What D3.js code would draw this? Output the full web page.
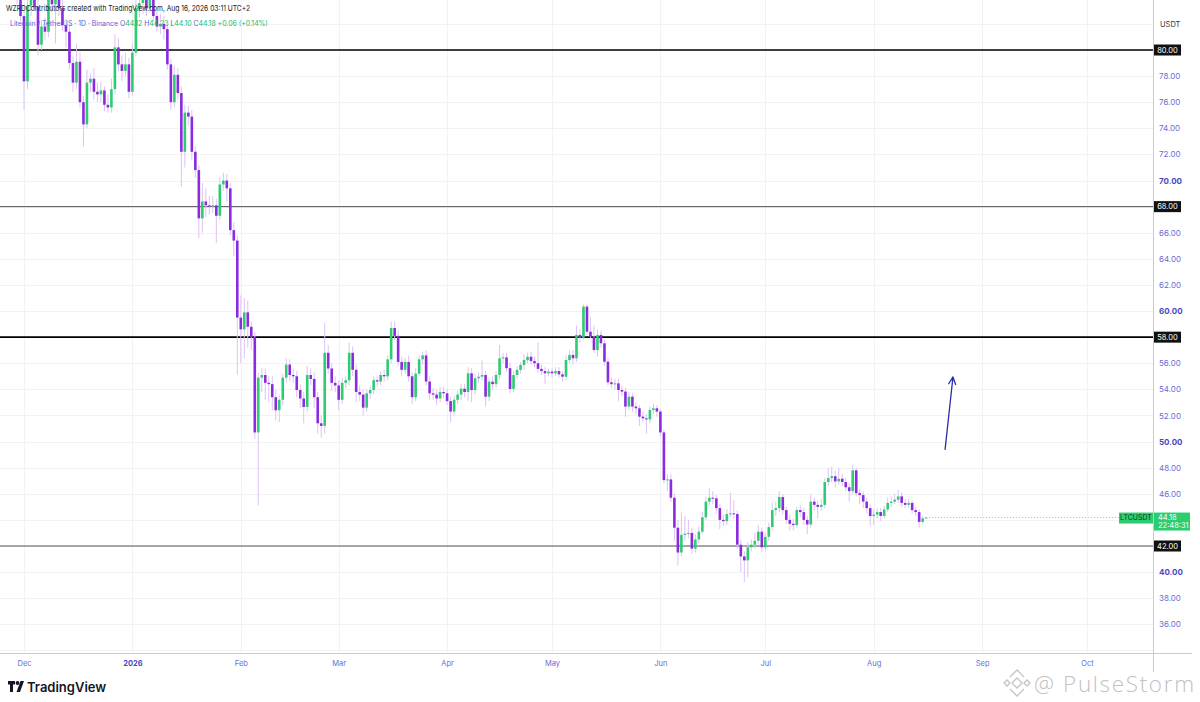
<!DOCTYPE html>
<html>
<head>
<meta charset="utf-8">
<script src="https://cdn.jsdelivr.net/npm/d3@7"></script>
<style>
  html, body { margin: 0; padding: 0; background: #fff; }
  svg { display: block; font-family: Inter, "Noto Sans", "DejaVu Sans", sans-serif; }
</style>
</head>
<body>
<svg id="chart" width="1200" height="702"></svg>
<script>
"use strict";

// daily LTC/USDT candles, 2025-11-25 .. 2026-08-16
const FIRST_DAY = "2025-11-25";

const opens = [
  85.0, 86.0, 85.3, 84.9, 85.6, 84.2, 82.6, 77.6, 83.4, 84.6,
  83.3, 80.4, 81.8, 81.4, 84.0, 83.5, 84.2, 83.2, 81.9, 81.4,
  79.0, 77.5, 79.1, 76.0, 74.3, 77.5, 77.8, 76.8, 76.6, 76.9,
  75.8, 75.6, 77.0, 80.2, 78.9, 78.4, 78.9, 76.8, 79.8, 83.2,
  83.6, 84.3, 83.2, 83.9, 82.6, 81.8, 82.0, 81.6, 78.9, 76.0,
  78.1, 76.7, 72.2, 75.2, 74.9, 72.2, 70.8, 67.1, 68.4, 68.1,
  68.0, 68.1, 67.3, 69.7, 70.0, 69.4, 66.2, 65.4, 59.5, 58.6,
  59.9, 58.8, 58.0, 50.7, 54.9, 55.1, 54.5, 54.4, 53.4, 52.4,
  53.2, 54.9, 55.9, 55.1, 55.0, 53.95, 53.3, 52.65, 55.1, 54.8,
  53.4, 51.4, 51.2, 56.8, 55.6, 54.5, 54.3, 53.2, 54.5, 54.7,
  56.8, 55.5, 53.8, 53.6, 52.6, 53.7, 53.95, 54.7, 54.6, 55.1,
  55.0, 56.3, 58.7, 58.1, 56.1, 55.5, 56.1, 55.0, 53.4, 55.2,
  56.3, 56.6, 54.6, 53.7, 53.6, 53.3, 53.8, 53.7, 53.1, 52.3,
  53.2, 53.6, 54.05, 53.8, 55.23, 53.95, 54.85, 54.97, 55.1, 53.44,
  54.59, 54.4, 55.1, 56.38, 56.45, 55.62, 54.03, 55.1, 55.49, 55.87,
  56.25, 56.5, 56.17, 56.0, 55.57, 55.4, 55.23, 55.36, 55.23, 55.4,
  55.15, 54.97, 56.25, 56.64, 56.38, 58.17, 57.96, 60.34, 58.42, 58.04,
  57.02, 58.17, 57.53, 56.12, 54.54, 54.4, 54.46, 53.95, 53.83, 52.68,
  53.44, 52.68, 52.55, 51.91, 51.78, 51.7, 52.42, 52.55, 52.3, 50.7,
  47.05, 47.1, 45.7, 43.4, 41.5, 42.85, 42.95, 43.0, 41.8, 42.5,
  43.1, 44.2, 45.4, 45.7, 45.65, 44.9, 44.0, 43.9, 44.45, 44.5,
  44.45, 42.1, 41.2, 40.9, 41.9, 42.1, 42.4, 43.1, 41.9, 42.7,
  43.45, 44.75, 44.9, 45.75, 44.75, 44.0, 43.7, 43.6, 44.75, 44.6,
  44.0, 43.65, 45.4, 45.15, 45.0, 45.15, 46.9, 47.2, 47.35, 46.95,
  47.15, 46.9, 46.5, 46.2, 47.8, 46.05, 45.9, 45.4, 44.9, 44.3,
  44.4, 44.6, 44.3, 44.8, 45.3, 45.4, 45.55, 45.8, 45.3, 45.15,
  45.3, 44.75, 44.6, 43.85, 44.12
];

const highs = [
  87.0, 87.5, 86.5, 86.2, 86.0, 84.6, 83.5, 84.5, 85.2, 85.5,
  83.9, 82.3, 82.5, 84.6, 85.0, 84.8, 85.0, 83.8, 82.4, 81.9,
  79.5, 80.5, 79.8, 76.5, 78.5, 78.2, 78.6, 77.5, 77.6, 77.2,
  76.6, 77.8, 81.2, 80.9, 79.6, 79.8, 79.4, 80.5, 84.2, 84.5,
  85.0, 85.2, 85.0, 84.5, 83.0, 82.8, 82.6, 82.0, 79.3, 78.8,
  78.6, 77.2, 75.8, 75.7, 75.4, 72.6, 71.2, 69.8, 69.4, 68.8,
  68.8, 68.6, 70.2, 70.6, 70.5, 69.8, 66.8, 65.8, 61.2, 61.0,
  60.8, 59.2, 58.4, 55.3, 55.6, 55.6, 55.0, 55.0, 54.0, 53.6,
  55.2, 56.4, 56.3, 55.6, 55.4, 54.4, 53.8, 55.8, 55.6, 55.3,
  53.8, 52.0, 59.1, 57.4, 56.0, 55.0, 54.7, 54.9, 55.0, 57.6,
  57.3, 55.9, 54.3, 54.0, 54.0, 54.3, 55.0, 55.0, 55.4, 55.5,
  56.6, 59.2, 59.2, 58.5, 56.5, 56.4, 56.6, 55.3, 55.6, 56.6,
  56.9, 57.0, 55.0, 54.1, 54.0, 54.2, 54.2, 54.0, 53.4, 53.5,
  53.9, 54.4, 54.4, 55.7, 55.6, 55.2, 55.3, 56.2, 55.4, 54.9,
  55.0, 55.4, 57.4, 56.8, 56.8, 56.0, 55.4, 55.8, 56.1, 56.7,
  56.8, 56.9, 56.5, 57.6, 55.9, 55.7, 55.6, 55.6, 55.7, 55.7,
  55.4, 56.6, 57.0, 57.0, 58.9, 58.6, 60.5, 60.5, 59.5, 58.9,
  58.6, 58.5, 57.8, 56.4, 54.9, 54.8, 54.8, 54.3, 54.1, 53.8,
  53.7, 53.0, 52.8, 52.3, 52.1, 52.7, 52.9, 52.8, 52.5, 50.9,
  47.5, 47.5, 46.0, 44.0, 44.6, 44.3, 44.0, 43.4, 42.9, 43.5,
  44.6, 45.8, 46.4, 46.2, 45.9, 45.2, 44.4, 44.8, 46.1, 45.5,
  44.7, 42.5, 41.6, 42.3, 42.5, 43.0, 43.6, 43.4, 43.0, 43.8,
  45.3, 45.4, 46.2, 46.0, 45.0, 44.4, 44.1, 45.0, 45.1, 44.9,
  44.3, 45.9, 45.7, 45.5, 45.6, 47.2, 48.0, 48.1, 47.8, 48.0,
  47.5, 47.2, 46.8, 48.2, 48.0, 46.4, 46.2, 45.7, 45.2, 44.8,
  44.9, 44.9, 45.1, 45.7, 45.8, 46.0, 46.3, 46.1, 45.6, 45.6,
  45.5, 45.0, 44.8, 44.3, 44.23
];

const lows = [
  84.0, 84.8, 84.2, 83.9, 83.5, 82.2, 75.4, 77.0, 82.6, 83.0,
  79.6, 80.0, 80.8, 81.0, 82.9, 80.5, 82.6, 81.5, 80.2, 78.5,
  76.8, 77.0, 75.6, 72.6, 74.0, 76.8, 76.2, 76.0, 76.0, 75.3,
  75.2, 75.2, 76.6, 78.4, 77.6, 78.0, 76.3, 76.5, 79.5, 82.5,
  82.8, 82.6, 82.9, 82.2, 81.4, 81.2, 80.8, 78.5, 75.4, 75.6,
  76.2, 69.5, 71.0, 74.2, 71.6, 70.2, 65.6, 66.0, 67.2, 67.4,
  67.5, 65.2, 67.0, 69.2, 68.4, 65.8, 64.2, 55.1, 56.0, 56.4,
  57.2, 57.0, 50.2, 45.1, 53.8, 53.2, 53.0, 52.4, 51.6, 51.5,
  52.8, 54.5, 54.6, 54.5, 53.4, 52.6, 51.4, 52.3, 54.3, 52.6,
  50.6, 50.3, 50.6, 55.2, 53.9, 53.8, 52.4, 52.9, 54.1, 54.3,
  55.0, 53.0, 53.1, 52.0, 52.3, 53.3, 53.6, 54.2, 54.3, 54.6,
  54.7, 56.0, 57.8, 55.8, 55.0, 55.2, 54.6, 52.9, 53.1, 55.0,
  55.9, 54.3, 53.2, 53.2, 52.8, 53.0, 53.3, 52.8, 51.5, 52.0,
  52.9, 53.2, 53.4, 53.1, 53.0, 53.6, 54.5, 54.7, 52.7, 53.1,
  54.0, 54.1, 54.8, 56.0, 55.3, 53.7, 53.8, 54.8, 55.2, 55.5,
  56.0, 55.9, 55.7, 55.3, 55.1, 54.4, 55.0, 54.9, 55.0, 54.9,
  54.6, 54.7, 56.0, 55.9, 56.1, 57.6, 57.8, 58.2, 57.9, 56.8,
  56.5, 57.2, 55.8, 54.3, 54.1, 54.0, 53.1, 53.5, 51.9, 52.4,
  52.3, 52.1, 51.2, 51.5, 50.6, 51.4, 52.1, 51.9, 50.4, 46.8,
  46.2, 45.4, 42.4, 40.5, 41.2, 42.4, 42.6, 41.4, 41.5, 42.2,
  42.9, 44.0, 45.1, 45.2, 44.5, 43.3, 43.5, 43.6, 44.2, 44.1,
  41.8, 40.0, 39.25, 39.6, 41.6, 41.8, 42.1, 41.5, 41.6, 42.4,
  43.2, 44.3, 44.6, 44.4, 43.7, 43.2, 43.2, 43.4, 44.2, 43.6,
  42.9, 43.4, 44.7, 44.1, 44.7, 44.9, 46.6, 46.9, 46.5, 46.7,
  46.6, 46.2, 45.4, 46.0, 45.8, 45.2, 44.9, 44.5, 43.5, 43.6,
  44.1, 43.9, 44.1, 44.6, 45.0, 45.2, 45.3, 45.0, 44.9, 44.9,
  44.5, 44.3, 43.4, 43.7, 44.10
];

const closes = [
  86.0, 85.3, 84.9, 85.6, 84.2, 82.6, 77.6, 83.4, 84.6, 83.3,
  80.4, 81.8, 81.4, 84.0, 83.5, 84.2, 83.2, 81.9, 81.4, 79.0,
  77.5, 79.1, 76.0, 74.3, 77.5, 77.8, 76.8, 76.6, 76.9, 75.8,
  75.6, 77.0, 80.2, 78.9, 78.4, 78.9, 76.8, 79.8, 83.2, 83.6,
  84.3, 83.2, 83.9, 82.6, 81.8, 82.0, 81.6, 78.9, 76.0, 78.1,
  76.7, 72.2, 75.2, 74.9, 72.2, 70.8, 67.1, 68.4, 68.1, 68.0,
  68.1, 67.3, 69.7, 70.0, 69.4, 66.2, 65.4, 59.5, 58.6, 59.9,
  58.8, 58.0, 50.7, 54.9, 55.1, 54.5, 54.4, 53.4, 52.4, 53.2,
  54.9, 55.9, 55.1, 55.0, 53.95, 53.3, 52.65, 55.1, 54.8, 53.4,
  51.4, 51.2, 56.8, 55.6, 54.5, 54.3, 53.2, 54.5, 54.7, 56.8,
  55.5, 53.8, 53.6, 52.6, 53.7, 53.95, 54.7, 54.6, 55.1, 55.0,
  56.3, 58.7, 58.1, 56.1, 55.5, 56.1, 55.0, 53.4, 55.2, 56.3,
  56.6, 54.6, 53.7, 53.6, 53.3, 53.8, 53.7, 53.1, 52.3, 53.2,
  53.6, 54.05, 53.8, 55.23, 53.95, 54.85, 54.97, 55.1, 53.44, 54.59,
  54.4, 55.1, 56.38, 56.45, 55.62, 54.03, 55.1, 55.49, 55.87, 56.25,
  56.5, 56.17, 56.0, 55.57, 55.4, 55.23, 55.36, 55.23, 55.4, 55.15,
  54.97, 56.25, 56.64, 56.38, 58.17, 57.96, 60.34, 58.42, 58.04, 57.02,
  58.17, 57.53, 56.12, 54.54, 54.4, 54.46, 53.95, 53.83, 52.68, 53.44,
  52.68, 52.55, 51.91, 51.78, 51.7, 52.42, 52.55, 52.3, 50.7, 47.05,
  47.1, 45.7, 43.4, 41.5, 42.85, 42.95, 43.0, 41.8, 42.5, 43.1,
  44.2, 45.4, 45.7, 45.65, 44.9, 44.0, 43.9, 44.45, 44.5, 44.45,
  42.1, 41.2, 40.9, 41.9, 42.1, 42.4, 43.1, 41.9, 42.7, 43.45,
  44.75, 44.9, 45.75, 44.75, 44.0, 43.7, 43.6, 44.75, 44.6, 44.0,
  43.65, 45.4, 45.15, 45.0, 45.15, 46.9, 47.2, 47.35, 46.95, 47.15,
  46.9, 46.5, 46.2, 47.8, 46.05, 45.9, 45.4, 44.9, 44.3, 44.4,
  44.6, 44.3, 44.8, 45.3, 45.4, 45.55, 45.8, 45.3, 45.15, 45.3,
  44.75, 44.6, 43.85, 44.12, 44.18
];

// horizontal levels drawn on the chart
const levels = [
  { price: 80, color: "#000", width: 1.6 },
  { price: 68, color: "#555", width: 1 },
  { price: 58, color: "#000", width: 1.6 },
  { price: 42, color: "#555", width: 1 }
];

const priceTicks = [36, 38, 40, 44, 46, 48, 50, 52, 54, 56, 60, 62, 64, 66, 70, 72, 74, 76, 78];
const boldTicks = [40, 50, 60, 70];
const gridPrices = [34, 36, 38, 40, 42, 44, 46, 48, 50, 52, 54, 56, 58, 60, 62, 64, 66, 68, 70, 72, 74, 76, 78, 80, 82, 84];
const monthTicks = ["2025-12-01", "2026-01-01", "2026-02-01", "2026-03-01", "2026-04-01",
  "2026-05-01", "2026-06-01", "2026-07-01", "2026-08-01", "2026-09-01", "2026-10-01"];

const lastPrice = 44.18;
const lastClock = "22:48:31";
const arrowFrom = { date: "2026-08-21T10:00:00Z", price: 49.4 };
const arrowTo   = { date: "2026-08-23T16:00:00Z", price: 54.95 };

const UP = "#2ecc71", DOWN = "#8a2be2", WICK = "#dcc2f4";
const AXIS_TXT = "#6b6bd6";

const parse = d3.utcParse("%Y-%m-%d");
const dates = d3.utcDay.range(parse(FIRST_DAY), d3.utcDay.offset(parse(FIRST_DAY), closes.length));
const candles = dates.map((date, i) => ({
  date, o: opens[i], h: highs[i], l: lows[i], c: closes[i]
}));

const svg = d3.select("#chart");
const W = 1200, H = 702;
const PANE_R = 1153, PANE_B = 653;

const x = d3.scaleUtc()
  .domain([parse("2025-12-01"), parse("2026-10-01")])
  .range([24, 1087]);
const y = d3.scaleLinear().domain([42, 80]).range([546, 50]);

svg.append("rect").attr("width", W).attr("height", H).attr("fill", "#fff");

svg.append("defs").append("clipPath").attr("id", "pane")
  .append("rect").attr("x", 0).attr("y", 0).attr("width", PANE_R).attr("height", PANE_B);

const pane = svg.append("g").attr("clip-path", "url(#pane)");

// grid
pane.append("g").selectAll("line").data(gridPrices).join("line")
  .attr("x1", 0).attr("x2", PANE_R)
  .attr("y1", d => Math.round(y(d)) + 0.5).attr("y2", d => Math.round(y(d)) + 0.5)
  .attr("stroke", "#f2f2f4");
pane.append("g").selectAll("line").data(monthTicks.map(parse)).join("line")
  .attr("x1", d => Math.round(x(d)) + 0.5).attr("x2", d => Math.round(x(d)) + 0.5)
  .attr("y1", 0).attr("y2", PANE_B)
  .attr("stroke", "#f2f2f4");

// level lines
pane.append("g").selectAll("line").data(levels).join("line")
  .attr("x1", 0).attr("x2", PANE_R)
  .attr("y1", d => y(d.price)).attr("y2", d => y(d.price))
  .attr("stroke", d => d.color).attr("stroke-width", d => d.width);

// last price dotted line
pane.append("line")
  .attr("x1", x(dates[dates.length - 1]) + 3).attr("x2", PANE_R)
  .attr("y1", y(lastPrice)).attr("y2", y(lastPrice))
  .attr("stroke", UP).attr("stroke-dasharray", "1,2").attr("opacity", 0.7);

// candles
const bw = 2.6;
const cg = pane.append("g");
cg.selectAll("line.wick").data(candles).join("line")
  .attr("class", "wick")
  .attr("x1", d => x(d.date)).attr("x2", d => x(d.date))
  .attr("y1", d => y(d.h)).attr("y2", d => y(d.l))
  .attr("stroke", WICK).attr("stroke-width", 1);
cg.selectAll("rect.body").data(candles).join("rect")
  .attr("class", "body")
  .attr("x", d => x(d.date) - bw / 2)
  .attr("width", bw)
  .attr("y", d => y(Math.max(d.o, d.c)))
  .attr("height", d => Math.max(1, Math.abs(y(d.o) - y(d.c))))
  .attr("fill", d => d.c >= d.o ? UP : DOWN);

// arrow annotation
const ax1 = x(new Date(arrowFrom.date)), ay1 = y(arrowFrom.price);
const ax2 = x(new Date(arrowTo.date)),   ay2 = y(arrowTo.price);
const ang = Math.atan2(ay2 - ay1, ax2 - ax1);
const head = 8, spread = 0.45;
pane.append("path")
  .attr("d", `M${ax1},${ay1}L${ax2},${ay2}` +
    `M${ax2 - head * Math.cos(ang - spread)},${ay2 - head * Math.sin(ang - spread)}L${ax2},${ay2}` +
    `L${ax2 - head * Math.cos(ang + spread)},${ay2 - head * Math.sin(ang + spread)}`)
  .attr("fill", "none").attr("stroke", "#2b2ba8").attr("stroke-width", 1.3)
  .attr("stroke-linecap", "round").attr("stroke-linejoin", "round");

// axes frame
svg.append("line").attr("x1", PANE_R + 0.5).attr("x2", PANE_R + 0.5).attr("y1", 0).attr("y2", 672)
  .attr("stroke", "#c6c6ee");
svg.append("line").attr("x1", 0).attr("x2", 1192).attr("y1", PANE_B + 0.5).attr("y2", PANE_B + 0.5)
  .attr("stroke", "#c6c6ee");

// price axis
const yAxis = svg.append("g").attr("transform", `translate(${PANE_R + 4},0)`)
  .call(d3.axisRight(y).tickValues(priceTicks).tickSize(0).tickPadding(2).tickFormat(d3.format(".2f")));
yAxis.select(".domain").remove();
yAxis.selectAll("text")
  .attr("font-family", "Inter, 'Noto Sans', sans-serif")
  .attr("font-size", 8)
  .attr("fill", d => boldTicks.includes(d) ? "#4848c4" : AXIS_TXT)
  .attr("font-weight", d => boldTicks.includes(d) ? 700 : 400);
yAxis.selectAll(".tick").filter(d => d === 44).remove();

svg.append("text").attr("x", 1160).attr("y", 27)
  .attr("font-size", 7.5).attr("fill", "#333").text("USDT");

// level price boxes
const lvl = svg.append("g").selectAll("g").data(levels).join("g")
  .attr("transform", d => `translate(${PANE_R + 1},${y(d.price)})`);
lvl.append("rect").attr("x", 0).attr("y", -5.5).attr("width", 27).attr("height", 11).attr("fill", "#111");
lvl.append("text").attr("x", 13.5).attr("y", 0).attr("dy", "0.35em")
  .attr("text-anchor", "middle").attr("font-size", 7.5).attr("fill", "#fff")
  .text(d => d3.format(".2f")(d.price));

// last price label
const yl = y(lastPrice);
svg.append("rect").attr("x", 1119).attr("y", yl - 5).attr("width", 34).attr("height", 11).attr("fill", UP);
svg.append("text").attr("x", 1136).attr("y", yl).attr("dy", "0.35em").attr("text-anchor", "middle")
  .attr("font-size", 7).attr("fill", "#0e3b1e").text("LTCUSDT");
svg.append("rect").attr("x", PANE_R + 1).attr("y", yl - 5).attr("width", 36).attr("height", 18).attr("fill", UP);
svg.append("text").attr("x", PANE_R + 5).attr("y", yl).attr("dy", "0.35em")
  .attr("font-size", 7.5).attr("fill", "#f4fff6").text(d3.format(".2f")(lastPrice));
svg.append("text").attr("x", PANE_R + 5).attr("y", yl + 8).attr("dy", "0.35em")
  .attr("font-size", 7.5).attr("fill", "#f4fff6").text(lastClock);

// time axis
const xAxis = svg.append("g").attr("transform", `translate(0,${PANE_B})`)
  .call(d3.axisBottom(x).tickValues(monthTicks.map(parse)).tickSize(0).tickPadding(8)
    .tickFormat(d => d.getUTCMonth() === 0 ? d3.utcFormat("%Y")(d) : d3.utcFormat("%b")(d)));
xAxis.select(".domain").remove();
xAxis.selectAll("text")
  .attr("font-family", "Inter, 'Noto Sans', sans-serif")
  .attr("font-size", 7.5)
  .attr("fill", d => d.getUTCMonth() === 0 ? "#4848c4" : AXIS_TXT)
  .attr("font-weight", d => d.getUTCMonth() === 0 ? 700 : 400);

// header
svg.append("text").attr("x", 6).attr("y", 11).attr("font-size", 7.8).attr("fill", "#222")
  .attr("textLength", 244).attr("lengthAdjust", "spacingAndGlyphs")
  .text("WZRDContributors created with TradingView.com, Aug 16, 2026 03:11 UTC+2");
const legend = svg.append("text").attr("x", 10).attr("y", 26).attr("font-size", 6.9);
legend.append("tspan").attr("fill", "#5b63d6").text("Litecoin / TetherUS · 1D · Binance ");
const last = candles[candles.length - 1];
const ohlc = [["O", last.o], ["H", last.h], ["L", last.l], ["C", last.c]];
ohlc.forEach(([k, v]) => {
  legend.append("tspan").attr("fill", "#5b63d6").text(k);
  legend.append("tspan").attr("fill", "#22b85f").text(d3.format(".2f")(v) + " ");
});
legend.append("tspan").attr("fill", "#22b85f").text("+0.06 (+0.14%)");

// TradingView logo
const logo = svg.append("g").attr("transform", "translate(8,681)").attr("fill", "#131722");
logo.append("path").attr("d", "M0,0H7V3.5H5V11H2V3.5H0Z");
logo.append("circle").attr("cx", 9.5).attr("cy", 2).attr("r", 1.9);
logo.append("path").attr("d", "M12.5,0H16L12,11H8.5Z");
svg.append("text").attr("x", 27).attr("y", 691.5).attr("font-size", 13).attr("font-weight", 600)
  .attr("fill", "#131722").text("TradingView");

// watermark
const wm = svg.append("g").attr("transform", "translate(1017,683)")
  .attr("fill", "none").attr("stroke", "#c4c4c4").attr("stroke-width", 1.3);
wm.append("path").attr("d", "M0,-5L5,0L0,5L-5,0Z");
wm.append("path").attr("d", "M-7,-6L0,-13L7,-6M-7,6L0,13L7,6");
wm.append("path").attr("d", "M-13,0L-10,-3L-7,0L-10,3Z M13,0L10,-3L7,0L10,3Z");
svg.append("text").attr("x", 1034).attr("y", 692).attr("font-family", "'Open Sans', 'Noto Sans', sans-serif")
  .attr("font-size", 22.5).attr("font-weight", 300).attr("fill", "#c2c2c2")
  .attr("textLength", 160).attr("lengthAdjust", "spacing").text("@ PulseStorm");
</script>
</body>
</html>
